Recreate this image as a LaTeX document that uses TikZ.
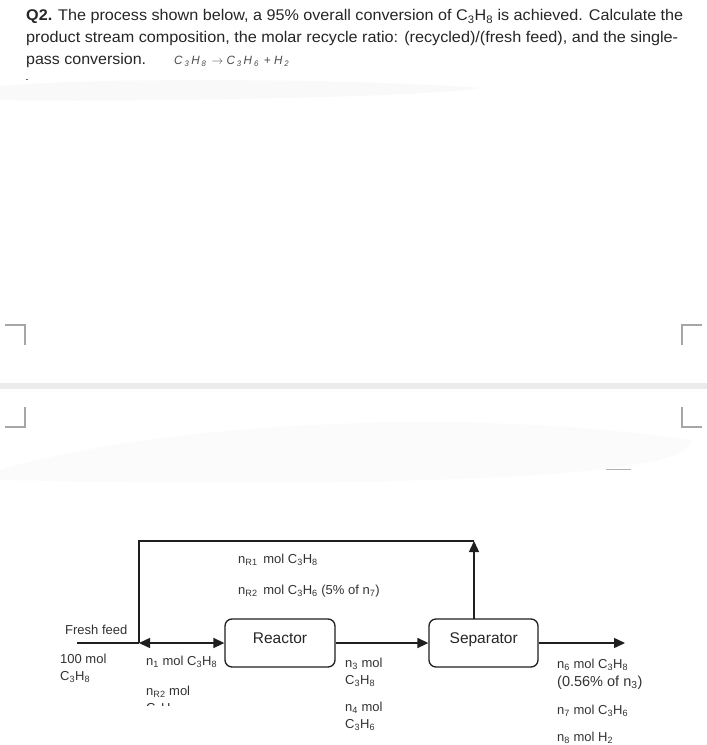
\documentclass[tikz,border=0pt]{standalone}
\usepackage{fontspec}
\setmainfont{Liberation Sans}
\usetikzlibrary{arrows.meta}
\newcommand{\sbx}[1]{\textsubscript{#1}}
\begin{document}
\begin{tikzpicture}[x=1pt,y=-1pt,
  qline/.style={anchor=base west, inner sep=0pt, font=\fontsize{15.5}{18}\selectfont, text=black!85},
  lbl/.style={anchor=base west, inner sep=0pt, font=\fontsize{13}{15}\selectfont, text=black!80},
  unitbox/.style={draw=black!88, line width=1.3pt, rounded corners=7pt, minimum width=110pt, minimum height=48pt, inner sep=0pt},
  boxtext/.style={anchor=base, inner sep=0pt, font=\fontsize{15.5}{18}\selectfont, text=black!85},
  flow/.style={draw=black!88, line width=1.4pt},
  tipr/.tip={Triangle[length=11pt,width=10pt]},
  corner/.style={draw=black!35, line width=1.2pt},
  smudge/.style={fill=black!2.5, draw=none}
]
\useasboundingbox (0,0) rectangle (707,745);
\fill[white] (0,0) rectangle (707,745);

% faint smudges
\fill[smudge] (0,86) .. controls (120,76) and (380,80) .. (480,88) .. controls (420,98) and (120,102) .. (0,100) -- cycle;
\fill[smudge, opacity=0.5] (0,470) .. controls (150,425) and (450,405) .. (690,440) .. controls (700,470) and (500,490) .. (0,480) -- cycle;

% question text
\node[qline] (q1) at (26,20.7) {\resizebox{657pt}{\height}{\textbf{Q2.} The process shown below, a 95\% overall conversion of C\sbx{3}H\sbx{8} is achieved. Calculate the}};
\node[qline] (q2) at (26,42.7) {\resizebox{652pt}{\height}{product stream composition, the molar recycle ratio: (recycled)/(fresh feed), and the single-}};
\node[qline] (q3) at (26,64.3) {\resizebox{120pt}{\height}{pass conversion.}};
\node[anchor=base west, inner sep=0pt, font=\fontsize{12}{14}\selectfont\itshape, text=black!70] (eq) at (174,64.3)
  {\resizebox{115pt}{\height}{C\,\sbx{3}\,H\,\sbx{8}\, $\rightarrow$ C\,\sbx{3}\,H\,\sbx{6}\, + H\,\sbx{2}}};
\draw[black!60, line width=0.8pt] (25.5,79.5) -- (28,79.5);

% page separator marks
\draw[corner] (5,325) -- (25,325) -- (25,345);
\draw[corner] (25,407) -- (25,427) -- (5,427);
\draw[corner] (702,325) -- (682,325) -- (682,345);
\draw[corner] (682,407) -- (682,427) -- (702,427);
\fill[black!8] (0,382.5) rectangle (707,389);
\draw[black!30, line width=1pt] (606,469.5) -- (631,469.5);

% units
\node[unitbox] (reactor) at (280,643) {};
\node[boxtext] (reactortext) at (280,643.5) {Reactor};
\node[unitbox, minimum width=109pt] (separator) at (483.5,643) {};
\node[boxtext] (septext) at (483.7,643.3) {Separator};

% coordinates
\coordinate (feedstart) at (77,643);
\coordinate (junction) at (139,643);
\coordinate (topleft) at (139,541);
\coordinate (topright) at (474,541);
\coordinate (septop) at (474,619);
\coordinate (outend) at (625,643);

% connectors
\draw[flow] (feedstart) -- (junction);
\draw[flow, {tipr}-{tipr}] (junction) -- (reactor.west);
\draw[flow, line join=miter] (junction) -- (topleft) -- (topright);
\draw[flow, -{tipr}] (septop) -- (topright);
\draw[flow, -{tipr}] (reactor.east) -- (separator.west);
\draw[flow, -{tipr}] (separator.east) -- (outend);

% labels
\node[lbl] (ff) at (65,634.5) {Fresh feed};
\node[lbl] (f1) at (60,663) {100 mol};
\node[lbl] (f2) at (60,680) {C\sbx{3}H\sbx{8}};
\node[lbl] (a1) at (146,665) {n\sbx{1} mol C\sbx{3}H\sbx{8}};
\node[lbl] (a2) at (146,695.7) {n\sbx{R2} mol};
\node[lbl] (a3) at (146,712.7) {C\sbx{3}H\sbx{6}};
\fill[white] (140,705.5) rectangle (222,722);
\node[lbl] (r1) at (238,563) {n\sbx{R1} \,mol C\sbx{3}H\sbx{8}};
\node[lbl] (r2) at (238,594) {n\sbx{R2} \,mol C\sbx{3}H\sbx{6} (5\% of n\sbx{7})};
\node[lbl] (b1) at (345,667.7) {n\sbx{3} mol};
\node[lbl] (b2) at (345,684) {C\sbx{3}H\sbx{8}};
\node[lbl] (b3) at (345,711.7) {n\sbx{4} mol};
\node[lbl] (b4) at (345,728) {C\sbx{3}H\sbx{6}};
\node[lbl] (c1) at (557,668) {n\sbx{6} mol C\sbx{3}H\sbx{8}};
\node[lbl, font=\fontsize{14.5}{17}\selectfont] (c2) at (557,686) {(0.56\% of n\sbx{3})};
\node[lbl] (c3) at (557,714) {n\sbx{7} mol C\sbx{3}H\sbx{6}};
\node[lbl] (c4) at (557,741) {n\sbx{8} mol H\sbx{2}};
\end{tikzpicture}
\end{document}
